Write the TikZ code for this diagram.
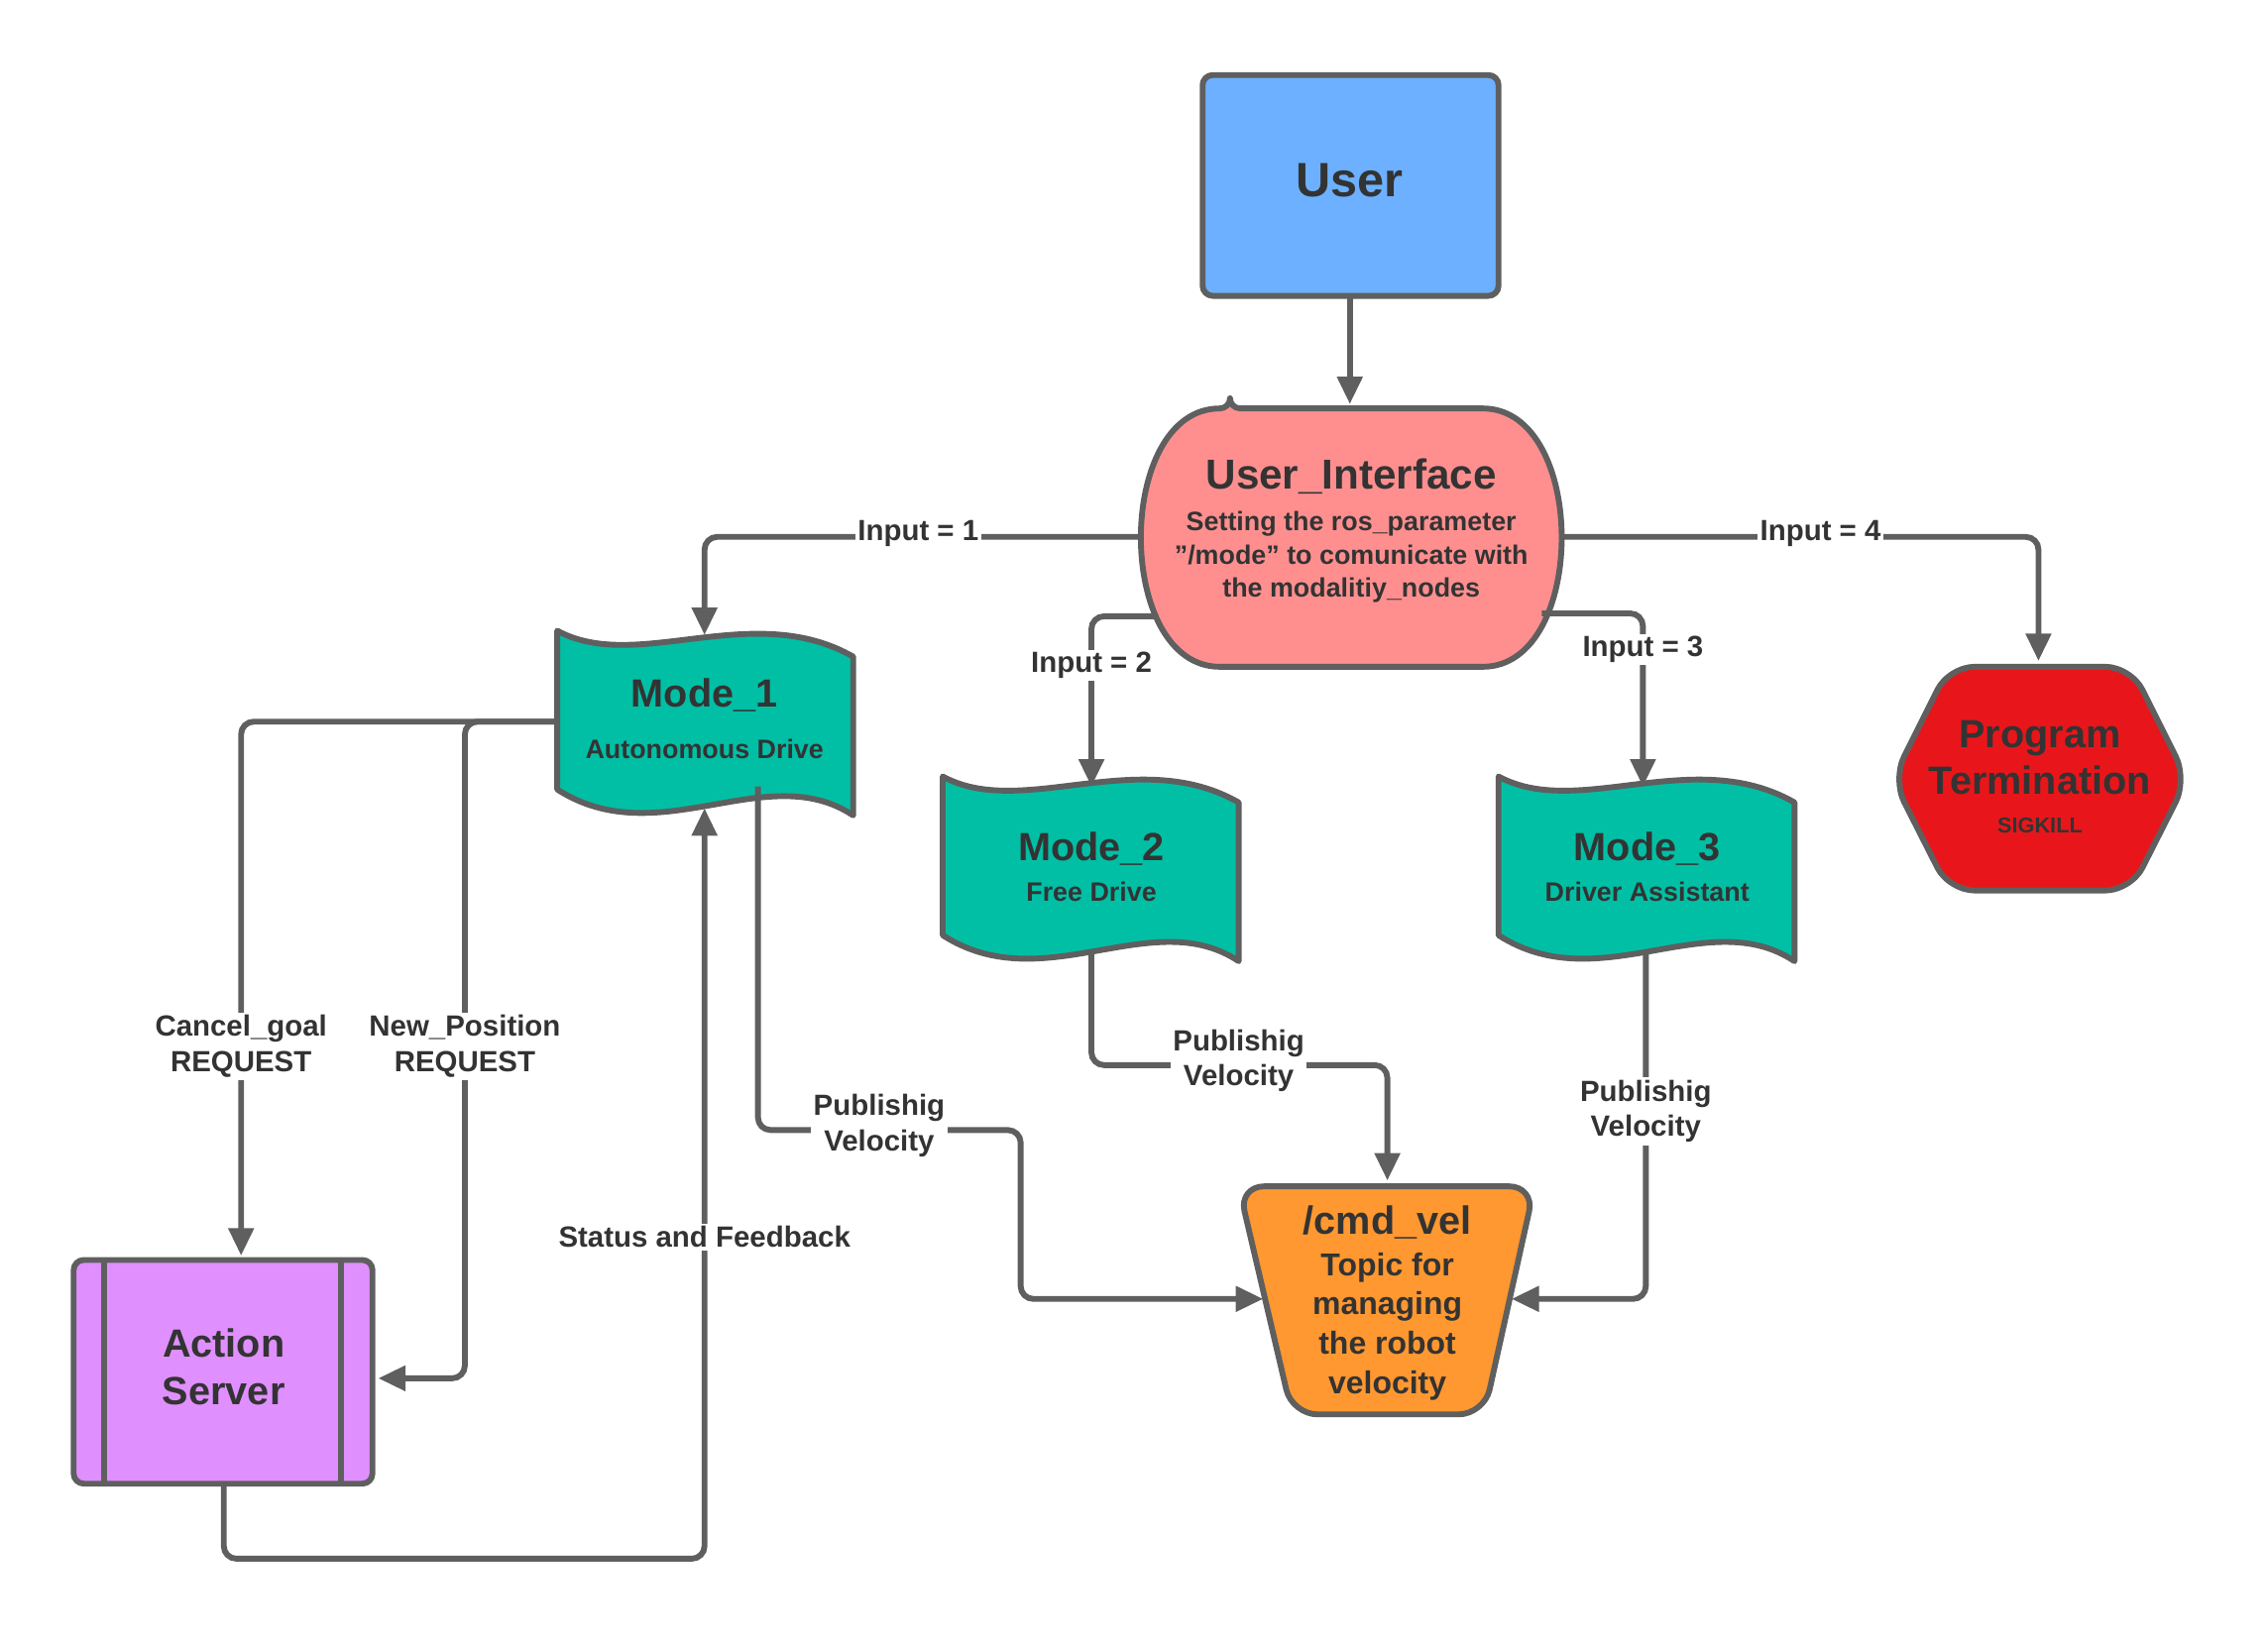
\documentclass[tikz,border=0pt]{standalone}
\usepackage{fontspec}
\setmainfont{Liberation Sans}
\usetikzlibrary{arrows.meta}
\definecolor{edge}{HTML}{5F5F5F}
\definecolor{txt}{HTML}{333333}
\definecolor{userblue}{HTML}{6CB0FF}
\definecolor{uipink}{HTML}{FF8F8F}
\definecolor{modeteal}{HTML}{00BFA5}
\definecolor{termred}{HTML}{E8161A}
\definecolor{cmdorange}{HTML}{FF9830}
\definecolor{actpurple}{HTML}{E08FFF}
\tikzset{
  box/.style={draw=edge, line width=2.3pt, rounded corners=4pt, line join=round},
  link/.style={draw=edge, line width=2.3pt, rounded corners=5pt, -{Triangle[length=0.38cm,width=0.34cm]}},
  lbl/.style={fill=white, inner sep=1pt, text=txt, font=\fontsize{11.5}{14}\selectfont\bfseries, align=center},
  ttl/.style={text=txt, font=\fontsize{15.5}{18.5}\selectfont\bfseries, align=center},
  sub/.style={text=txt, font=\fontsize{10.5}{13}\selectfont\bfseries, align=center},
}
\begin{document}
\begin{tikzpicture}[x=0.02cm, y=-0.02cm]
\useasboundingbox (0,0) rectangle (1571,1139);

% User
\draw[box, fill=userblue] (833,52) rectangle (1038,205);
\node[text=txt, font=\fontsize{19}{23}\selectfont\bfseries] (user) at (935,125) {User};
\coordinate (userS) at (935,205);

% User_Interface
\draw[box, fill=uipink] (852,283) -- (1020,283) .. controls (1100,283) and (1100,462) .. (1020,462)
  -- (852,462) .. controls (772,462) and (772,283) .. (852,283) -- cycle;
\node[text=txt, font=\fontsize{16.5}{20}\selectfont\bfseries] (ui) at (936,330) {User\_Interface};
\node[sub] (uisub) at (936,386) {Setting the ros\_parameter\\"/mode" to comunicate with\\the modalitiy\_nodes};
\coordinate (uiN) at (935,280);
\coordinate (uiW) at (792,372);
\coordinate (uiE) at (1080,372);
\coordinate (uiSW) at (802,427);
\coordinate (uiSE) at (1068,425);

% Mode shapes
\newcommand{\modeshape}[2]{%
  \draw[box, fill=modeteal, rounded corners=0pt] (#1,#2)
    .. controls ++(55,30) and ++(-70,-40) .. ++(205,18) -- ++(0,110)
    .. controls ++(-60,-40) and ++(70,45) .. ++(-205,-18) -- cycle;}
\modeshape{386}{437}
\node[ttl] (m1) at (488,482) {Mode\_1};
\node[sub] (m1s) at (488,519) {Autonomous Drive};
\coordinate (m1N) at (488,440);
\coordinate (m1W) at (386,500);
\coordinate (m1S) at (488,560);
\coordinate (m1out) at (525,545);

\modeshape{653}{538}
\node[ttl] (m2) at (756,588) {Mode\_2};
\node[sub] (m2s) at (756,618) {Free Drive};
\coordinate (m2N) at (756,545);
\coordinate (m2S) at (756,660);

\modeshape{1038}{538}
\node[ttl] (m3) at (1141,588) {Mode\_3};
\node[sub] (m3s) at (1141,618) {Driver Assistant};
\coordinate (m3N) at (1138,545);
\coordinate (m3S) at (1140,660);

% Program Termination
\draw[box, fill=termred, rounded corners=10pt] (1311,540) -- (1350,462) -- (1476,462) -- (1515,540) -- (1476,617) -- (1350,617) -- cycle;
\node[ttl] (term) at (1413,525) {Program\\Termination};
\node[text=txt, font=\fontsize{8.5}{10}\selectfont\bfseries] (sig) at (1413,572) {SIGKILL};
\coordinate (termN) at (1412,458);

% /cmd_vel
\draw[box, fill=cmdorange, rounded corners=10pt] (858,822) -- (1063,822) -- (1028,980) -- (895,980) -- cycle;
\node[ttl] (cmd) at (961,847) {/cmd\_vel};
\node[text=txt, font=\fontsize{12.5}{15.5}\selectfont\bfseries, align=center] (cmds) at (961,919) {Topic for\\managing\\the robot\\velocity};
\coordinate (cmdN) at (961,818);
\coordinate (cmdW) at (875,900);
\coordinate (cmdE) at (1047,900);

% Action Server
\draw[box, fill=actpurple] (51,873) rectangle (258,1028);
\draw[draw=edge, line width=2.3pt] (72,873) -- (72,1028) (236,873) -- (236,1028);
\node[ttl] (act) at (155,947) {Action\\Server};
\coordinate (actN) at (167,870);
\coordinate (actE) at (262,955);
\coordinate (actS) at (155,1028);

% connectors
\draw[link] (userS) -- (uiN);
\draw[link] (uiW) -- (488,372) -- (m1N);
\draw[link] (uiSW) -- (756,427) -- (m2N);
\draw[link] (uiSE) -- (1138,425) -- (m3N);
\draw[link] (uiE) -- (1412,372) -- (termN);
\draw[link] (m1W) -- (167,500) -- (actN);
\draw[link] (m1W) -- (322,500) -- (322,955) -- (actE);
\draw[link] (actS) -- (155,1080) -- (488,1080) -- (m1S);
\draw[link] (m1out) -- (525,783) -- (707,783) -- (707,900) -- (cmdW);
\draw[link] (m2S) -- (756,738) -- (961,738) -- (cmdN);
\draw[link] (m3S) -- (1140,900) -- (cmdE);

% labels
\node[lbl] (l1) at (636,370) {Input = 1};
\node[lbl] (l2) at (756,461) {Input = 2};
\node[lbl] (l3) at (1138,450) {Input = 3};
\node[lbl] (l4) at (1261,370) {Input = 4};
\node[lbl] (lc) at (167,725) {Cancel\_goal\\REQUEST};
\node[lbl] (ln) at (322,725) {New\_Position\\REQUEST};
\node[lbl] (ls) at (488,857) {Status and Feedback};
\node[lbl] (lp1) at (609,780) {Publishig\\Velocity};
\node[lbl] (lp2) at (858,735) {Publishig\\Velocity};
\node[lbl] (lp3) at (1140,770) {Publishig\\Velocity};
\end{tikzpicture}
\end{document}
